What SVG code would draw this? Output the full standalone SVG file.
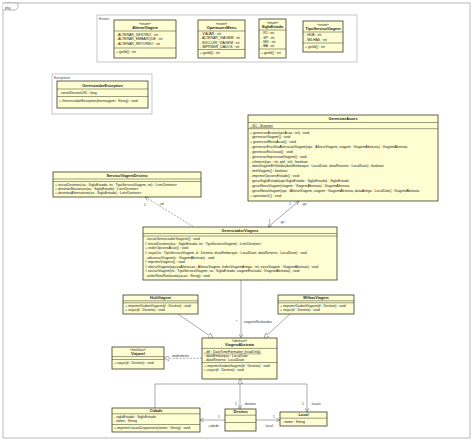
<svg xmlns="http://www.w3.org/2000/svg" width="474" height="444" viewBox="0 0 474 444">
<style>
.bg{fill:#ffffff}
.frame{fill:#ffffff;stroke:#9a9a9a;stroke-width:0.7}
.pk{fill:#ffffff;stroke:#b0b0b0;stroke-width:0.7}
.box{fill:#fefed2;stroke:#3b3b22;stroke-width:0.8}
.sep{stroke:#3b3b22;stroke-width:0.5}
text{font-family:"Liberation Sans",Arial,sans-serif;fill:#222222}
.m{font-size:3.5px}
.n{font-size:3.8px;font-weight:bold;text-anchor:middle}
.st{font-size:3.2px;text-anchor:middle}
.pl{font-size:3.3px;fill:#444444}
.u{text-decoration:underline}
.lb{font-size:3.3px;fill:#333333}
.c{fill:none;stroke:#555555;stroke-width:0.5}
.d{stroke-dasharray:2,1.4}
</style>
<defs>
<marker id="arr" viewBox="0 0 10 10" refX="10" refY="5" markerWidth="4" markerHeight="4" markerUnits="userSpaceOnUse" orient="auto-start-reverse">
<path d="M0,0 L10,5 L0,10" fill="none" stroke="#555555" stroke-width="1.2"/>
</marker>
<marker id="tri" viewBox="0 0 10 10" refX="10" refY="5" markerWidth="5" markerHeight="5" markerUnits="userSpaceOnUse" orient="auto">
<path d="M0,0 L10,5 L0,10 Z" fill="#ffffff" stroke="#555555" stroke-width="1"/>
</marker>
</defs>
<rect class="bg" x="0" y="0" width="474" height="444"/>

<g id="pkg">
<rect class="frame" x="3" y="3" width="467" height="435"/>
<path d="M3,3 H18 V7.5 L15.5,10 H3" fill="#ffffff" stroke="#9a9a9a" stroke-width="0.7"/>
<text class="pl" x="5" y="8.5">pkg</text>
</g>

<g id="Enums">
<rect class="pk" x="97" y="15" width="260" height="47"/>
<text class="pl" x="99" y="19.5">Enums</text>
</g>

<g id="Exceptions">
<rect class="pk" x="52" y="74" width="100" height="40"/>
<text class="pl" x="54" y="78.5">Exceptions</text>
</g>

<g id="AlterarViagem">
<rect class="box" x="114" y="20" width="62" height="38"/>
<text class="st" x="145" y="25">«enum»</text>
<text class="n" x="145" y="29.2">AlterarViagem</text>
<line class="sep" x1="114" y1="31" x2="176" y2="31"/>
<text class="m" x="116" y="35.5">- ALTERAR_DESTINO : int</text>
<text class="m" x="116" y="40">- ALTERAR_EMBARQUE : int</text>
<text class="m" x="116" y="44.5">- ALTERAR_RETORNO : int</text>
<line class="sep" x1="114" y1="48" x2="176" y2="48"/>
<text class="m" x="116" y="53">+ getId() : int</text>
</g>

<g id="OperacoesMenu">
<rect class="box" x="198" y="20" width="47" height="38"/>
<text class="st" x="221.5" y="25">«enum»</text>
<text class="n" x="221.5" y="29.2">OperacoesMenu</text>
<line class="sep" x1="198" y1="31" x2="245" y2="31"/>
<text class="m" x="200" y="35.2">- VIAJAR : int</text>
<text class="m" x="200" y="39.4">- ALTERAR_VIAGEM : int</text>
<text class="m" x="200" y="43.6">- EXCLUIR_VIAGEM : int</text>
<text class="m" x="200" y="47.8">- IMPRIMIR_DADOS : int</text>
<line class="sep" x1="198" y1="49.5" x2="245" y2="49.5"/>
<text class="m" x="200" y="54">+ getId() : int</text>
</g>

<g id="SiglaEstado">
<rect class="box" x="259" y="19" width="27" height="39"/>
<text class="st" x="272.5" y="24">«enum»</text>
<text class="n" x="272.5" y="28.2">SiglaEstado</text>
<line class="sep" x1="259" y1="30" x2="286" y2="30"/>
<text class="m" x="261" y="34.3">- RJ : int</text>
<text class="m" x="261" y="38.5">- SP : int</text>
<text class="m" x="261" y="42.7">- MG : int</text>
<text class="m" x="261" y="46.9">- BA : int</text>
<line class="sep" x1="259" y1="49" x2="286" y2="49"/>
<text class="m" x="261" y="54">+ getId() : int</text>
</g>

<g id="TipoServicoViagem">
<rect class="box" x="303" y="21" width="40" height="31"/>
<text class="st" x="323" y="26">«enum»</text>
<text class="n" x="323" y="30.2">TipoServicoViagem</text>
<line class="sep" x1="303" y1="32" x2="343" y2="32"/>
<text class="m" x="305" y="36.3">- HUB : int</text>
<text class="m" x="305" y="40.5">- MILHAS : int</text>
<line class="sep" x1="303" y1="43" x2="343" y2="43"/>
<text class="m" x="305" y="47.8">+ getId() : int</text>
</g>

<g id="GerenciadorException">
<rect class="box" x="57" y="81" width="91" height="27"/>
<text class="n" x="102.5" y="86.5">GerenciadorException</text>
<line class="sep" x1="57" y1="89" x2="148" y2="89"/>
<text class="m" x="59" y="93.5">- serialVersionUID : long</text>
<line class="sep" x1="57" y1="96.5" x2="148" y2="96.5"/>
<text class="m" x="59" y="101.5">+ GerenciadorException(mensagem : String) : void</text>
</g>

<g id="GerenciarAcoes">
<rect class="box" x="248" y="115" width="190" height="86"/>
<text class="n" x="343" y="120.3">GerenciarAcoes</text>
<line class="sep" x1="248" y1="122.5" x2="438" y2="122.5"/>
<text class="m u" x="250" y="126.7">- SC : Scanner</text>
<line class="sep" x1="248" y1="128.7" x2="438" y2="128.7"/>
<text class="m" x="250" y="133.5">+ gerenciarAcoes(opcAcao : int) : void</text>
<text class="m" x="250" y="138.35">- gerenciarViagem() : void</text>
<text class="m" x="250" y="143.2">+ gerenciarMenuAcao() : void</text>
<text class="m" x="250" y="148.05">- gerenciarEscolhaAlteracaoViagem(opc : AlterarViagem, viagem : ViagemAbstrata) : ViagemAbstrata</text>
<text class="m" x="250" y="152.9">- gerenciarExclusao() : void</text>
<text class="m" x="250" y="157.75">- gerenciarImpressaoViagem() : void</text>
<text class="m" x="250" y="162.6">- isInteiro(opc : int, qtd : int) : boolean</text>
<text class="m" x="250" y="167.45">- dataViagemEhValida(dataEmbarque : LocalDate, dataRetorno : LocalDate) : boolean</text>
<text class="m" x="250" y="172.3">- temViagem() : boolean</text>
<text class="m" x="250" y="177.15">- imprimirOpcoesEstado() : void</text>
<text class="m" x="250" y="182">- gerarSiglaEstado(opcSiglaEstado : SiglaEstado) : SiglaEstado</text>
<text class="m" x="250" y="186.85">- gerarNovaViagem(viagem : ViagemAbstrata) : ViagemAbstrata</text>
<text class="m" x="250" y="191.7">- gerarNovaViagem(opc : AlterarViagem, viagem : ViagemAbstrata, dataAntiga : LocalDate) : ViagemAbstrata</text>
<text class="m" x="250" y="196.55">+ operation1() : void</text>
</g>

<g id="ServicoViagemDestino">
<rect class="box" x="53" y="172" width="148" height="25"/>
<text class="n" x="127" y="177">ServicoViagemDestino</text>
<line class="sep" x1="53" y1="179" x2="201" y2="179"/>
<line class="sep" x1="53" y1="181.5" x2="201" y2="181.5"/>
<text class="m" x="55" y="185.7">+ iniciarDestinos(sa : SiglaEstado, tis : TipoServicoViagem, int) : List&lt;Destino&gt;</text>
<text class="m" x="55" y="190">+ destinosNacionais(sa : SiglaEstado) : List&lt;Destino&gt;</text>
<text class="m" x="55" y="194.3">+ destinosAlternativos(sa : SiglaEstado) : List&lt;Destino&gt;</text>
</g>

<g id="GerenciadorViagens">
<rect class="box" x="143" y="227" width="194" height="53"/>
<text class="n" x="240" y="231.7">GerenciadorViagens</text>
<line class="sep" x1="143" y1="233.5" x2="337" y2="233.5"/>
<line class="sep" x1="143" y1="236" x2="337" y2="236"/>
<text class="m" x="145" y="240.2">- iniciarGerenciadorViagens() : void</text>
<text class="m" x="145" y="244.8"># iniciarDestinos(sa : SiglaEstado, tis : TipoServicoViagem) : List&lt;Destino&gt;</text>
<text class="m" x="145" y="249.4">+ exibirOpcoesAcao() : void</text>
<text class="m" x="145" y="254"># viajar(tis : TipoServicoViagem, d : Destino, dataEmbarque : LocalDate, dataRetorno : LocalDate) : void</text>
<text class="m" x="145" y="258.6">- adicionarViagem(v : ViagemAbstrata) : void</text>
<text class="m" x="145" y="263.2"># imprimirViagens() : void</text>
<text class="m" x="145" y="267.8"># alterarViagem(opcaoAlteracao : AlterarViagem, indexViagemAntiga : int, novaViagem : ViagemAbstrata) : void</text>
<text class="m" x="145" y="272.4"># excluirViagem(tis : TipoServicoViagem, sa : SiglaEstado, viagemExcluida : ViagemAbstrata) : void</text>
<text class="m" x="145" y="277">- exibirRotaRealizada(acao : String) : void</text>
</g>

<g id="HubViagem">
<rect class="box" x="123" y="295" width="75" height="19"/>
<text class="n" x="160.5" y="299.3">HubViagem</text>
<line class="sep" x1="123" y1="300.8" x2="198" y2="300.8"/>
<line class="sep" x1="123" y1="302.8" x2="198" y2="302.8"/>
<text class="m" x="125" y="307">+ imprimirDadosViagem(d : Destino) : void</text>
<text class="m" x="125" y="311.2">+ viajar(d : Destino) : void</text>
</g>

<g id="MilhasViagem">
<rect class="box" x="278" y="295" width="76" height="19"/>
<text class="n" x="316" y="299.3">MilhasViagem</text>
<line class="sep" x1="278" y1="300.8" x2="354" y2="300.8"/>
<line class="sep" x1="278" y1="302.8" x2="354" y2="302.8"/>
<text class="m" x="280" y="307">+ imprimirDadosViagem(d : Destino) : void</text>
<text class="m" x="280" y="311.2">+ viajar(d : Destino) : void</text>
</g>

<g id="Viajavel">
<rect class="box" x="112" y="347" width="52" height="22"/>
<text class="st" x="138" y="351">«interface»</text>
<text class="n" x="138" y="354.9">Viajavel</text>
<line class="sep" x1="112" y1="356.6" x2="164" y2="356.6"/>
<line class="sep" x1="112" y1="359.5" x2="164" y2="359.5"/>
<text class="m" x="114" y="364">+ viajar(d : Destino) : void</text>
</g>

<g id="ViagemAbstrata">
<rect class="box" x="202" y="338" width="75" height="41"/>
<text class="st" x="239.5" y="342.4">«abstract»</text>
<text class="n" x="239.5" y="346.4">ViagemAbstrata</text>
<line class="sep" x1="202" y1="348.4" x2="277" y2="348.4"/>
<text class="m u" x="204" y="352.8">- dtf : DateTimeFormatter {readOnly}</text>
<text class="m" x="204" y="356.8">- dataEmbarque : LocalDate</text>
<text class="m" x="204" y="360.6">- dataRetorno : LocalDate</text>
<line class="sep" x1="202" y1="362.5" x2="277" y2="362.5"/>
<text class="m" x="204" y="366.9">+ imprimirDadosViagem(d : Destino) : void</text>
<text class="m" x="204" y="371">+ viajar(d : Destino) : void</text>
</g>

<g id="Cidade">
<rect class="box" x="112" y="408" width="88" height="24"/>
<text class="n" x="156" y="412.2">Cidade</text>
<line class="sep" x1="112" y1="413.8" x2="200" y2="413.8"/>
<text class="m" x="114" y="418">- siglaEstado : SiglaEstado</text>
<text class="m" x="114" y="422.2">- nome : String</text>
<line class="sep" x1="112" y1="424.5" x2="200" y2="424.5"/>
<text class="m" x="114" y="429">+ imprimirLocaisDisponiveis(nome : String) : void</text>
</g>

<g id="Destino">
<rect class="box" x="225" y="409" width="31" height="22"/>
<text class="n" x="240.5" y="413.4">Destino</text>
<line class="sep" x1="225" y1="415.2" x2="256" y2="415.2"/>
<line class="sep" x1="225" y1="422.5" x2="256" y2="422.5"/>
</g>

<g id="Local">
<rect class="box" x="280" y="412" width="47" height="14"/>
<text class="n" x="303.5" y="416.4">Local</text>
<line class="sep" x1="280" y1="418.2" x2="327" y2="418.2"/>
<text class="m" x="282" y="422.6">- nome : String</text>
</g>

<g id="connectors">
<line class="c" x1="299" y1="201" x2="268" y2="227" marker-start="url(#arr)" marker-end="url(#arr)"/>
<text class="lb" x="289" y="204.5">1</text>
<text class="lb" x="302" y="205">-gv</text>
<text class="lb" x="268.5" y="221.5">1</text>
<text class="lb" x="280" y="222.5">-gv</text>

<line class="c d" x1="145" y1="197" x2="194" y2="227" marker-start="url(#arr)"/>
<text class="lb" x="144" y="206">1</text>
<text class="lb" x="159" y="204.5">-sd</text>

<line class="c" x1="241" y1="280" x2="241" y2="338" marker-end="url(#arr)"/>
<text class="lb" x="236" y="323">*</text>
<text class="lb" x="243" y="323">-viagensRealizadas</text>

<line class="c" x1="178" y1="314" x2="213" y2="338" marker-end="url(#tri)"/>
<line class="c" x1="290" y1="314" x2="264" y2="338" marker-end="url(#tri)"/>

<line class="c d" x1="202" y1="358.3" x2="164" y2="358.3" marker-end="url(#tri)"/>
<text class="lb" x="172" y="356.5">implements</text>

<line class="c" x1="240" y1="384" x2="240" y2="379" marker-end="url(#tri)"/>
<polyline class="c" points="155,408 155,384 307,384"/>
<line class="c" x1="240" y1="384" x2="240" y2="409" marker-end="url(#arr)"/>
<line class="c" x1="307" y1="384" x2="307" y2="412" marker-end="url(#arr)"/>
<text class="lb" x="235" y="405">1</text>
<text class="lb" x="244" y="405">-destino</text>
<text class="lb" x="302" y="405">1</text>
<text class="lb" x="311" y="405">-locais</text>

<line class="c" x1="225" y1="420" x2="200" y2="420" marker-end="url(#arr)"/>
<text class="lb" x="218" y="418">1</text>
<text class="lb" x="208" y="426.5">-cidade</text>
<line class="c" x1="256" y1="420" x2="280" y2="420" marker-end="url(#arr)"/>
<text class="lb" x="273" y="418">1</text>
<text class="lb" x="265" y="426.5">-local</text>
</g>
</svg>
